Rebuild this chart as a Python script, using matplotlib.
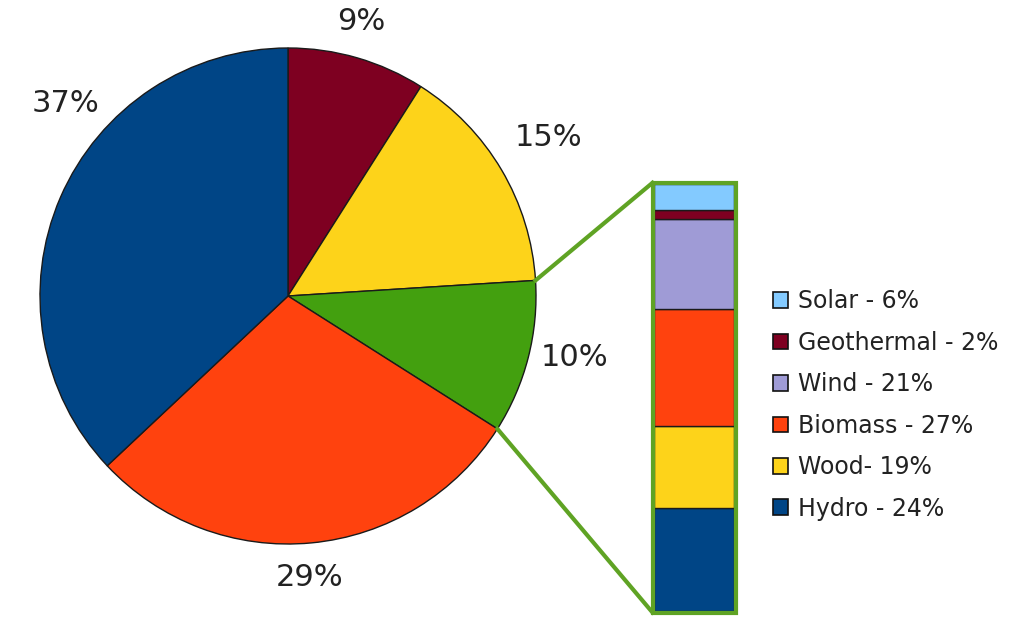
import matplotlib
matplotlib.use("Agg")
import matplotlib.pyplot as plt
from matplotlib.patches import Patch, Rectangle
import numpy as np

# pie: share of renewables
pie_labels = ['9%', '15%', '10%', '29%', '37%']
pie_values = [9, 15, 10, 29, 37]
pie_colors = ['#7e0021', '#fdd31a', '#43a00f', '#ff420e', '#004586']

# breakdown bar (bottom to top)
bar_names = ['Hydro', 'Wood', 'Biomass', 'Wind', 'Geothermal', 'Solar']
bar_values = [24, 19, 27, 21, 2, 6]
bar_labels = ['Hydro - 24%', 'Wood- 19%', 'Biomass - 27%', 'Wind - 21%',
              'Geothermal - 2%', 'Solar - 6%']
bar_colors = ['#004586', '#fdd31a', '#ff420e', '#9f9bd6', '#7e0021', '#83caff']

# where the pie percentages sit (pixel layout)
label_pos = [(361, 598), (548, 481), (575, 262), (310, 42), (66, 516)]

fig = plt.figure(figsize=(10.24, 6.19), dpi=100)
ax = fig.add_axes([0, 0, 1, 1])

cx, cy, r = 288, 323, 248
wedges, _ = ax.pie(pie_values, colors=pie_colors, startangle=90, counterclock=False,
                   center=(cx, cy), radius=r, frame=True,
                   wedgeprops=dict(edgecolor='#1a1a1a', linewidth=1.0))
for lab, (tx, ty) in zip(pie_labels, label_pos):
    ax.text(tx, ty, lab, fontsize=22, color='#222222', ha='center', va='center')
ax.set_xlim(0, 1024)
ax.set_ylim(0, 619)
ax.axis('off')

# stacked bar
scale = 4.31
bx, bw, b0 = 694, 80, 8
bottom = b0
for v, c in zip(bar_values, bar_colors):
    ax.bar(bx, v * scale, width=bw, bottom=bottom, color=c, edgecolor='#1a1a1a', linewidth=1.0)
    bottom += v * scale
top = bottom
ax.add_patch(Rectangle((bx - bw / 2 - 1.5, b0 - 1.5), bw + 3, top - b0 + 3, fill=False,
                       edgecolor='#5fa324', linewidth=3, zorder=5))

# connector lines from the green wedge to the bar
g = wedges[2]
for ang, yy in [(g.theta2, top + 1.5), (g.theta1, b0 - 1.5)]:
    px = cx + r * np.cos(np.radians(ang))
    py = cy + r * np.sin(np.radians(ang))
    ax.plot([px, bx - bw / 2 - 1.5], [py, yy], color='#5fa324', linewidth=3, zorder=4)

handles = [Patch(facecolor=c, edgecolor='#111111', linewidth=1.2) for c in bar_colors[::-1]]
fig.legend(handles, bar_labels[::-1], loc='upper left', bbox_to_anchor=(0.734, 0.567),
           frameon=False, fontsize=17, handlelength=0.65, handleheight=0.65,
           handletextpad=0.4, labelspacing=0.74, labelcolor='#222222')

fig.savefig('out.png', dpi=100, facecolor='white')
